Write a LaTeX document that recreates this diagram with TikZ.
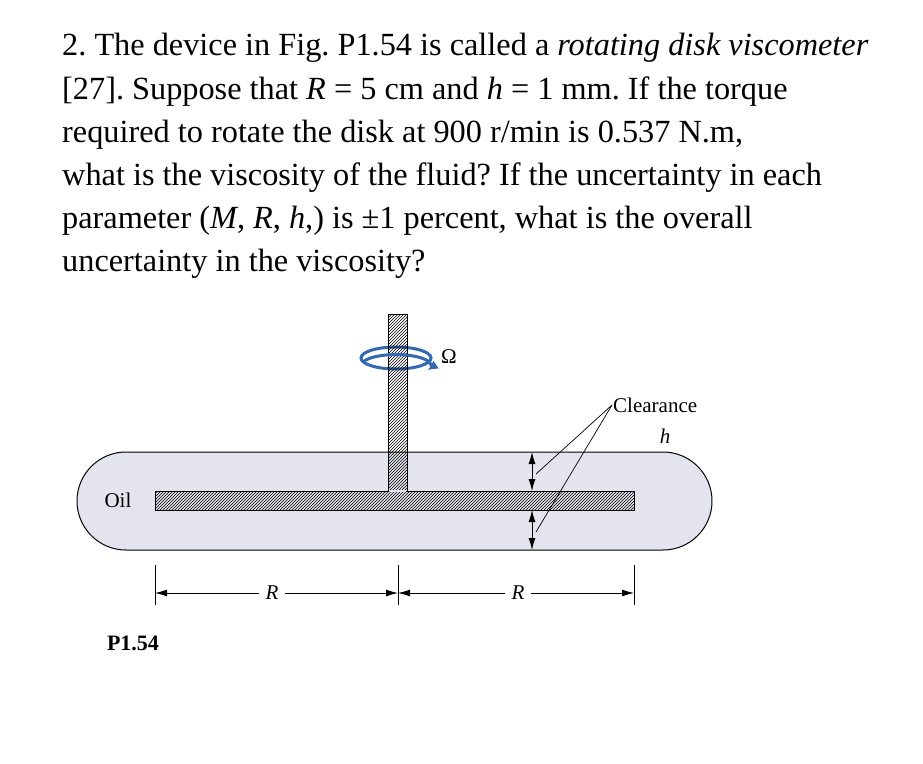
\documentclass[tikz,border=0pt]{standalone}
\usepackage{fontspec}
\setmainfont{Liberation Serif}
\usetikzlibrary{patterns,arrows.meta}
\definecolor{oil}{RGB}{228,228,238}
\definecolor{rot}{RGB}{50,105,175}
\tikzset{txt/.style={anchor=base west,inner sep=0pt,font=\fontsize{32.3}{32}\selectfont},
 lbl/.style={inner sep=1pt,font=\fontsize{21}{21}\selectfont},
 hatch/.style={draw,line width=1pt,pattern=north east lines},
 dim/.style={line width=0.9pt,-{Latex[length=12pt,width=7pt]}},
 ddim/.style={line width=0.9pt,{Latex[length=12pt,width=7pt]}-{Latex[length=12pt,width=7pt]}}}
\begin{document}
\frenchspacing
\begin{tikzpicture}[x=1pt,y=-1pt]
\useasboundingbox (0,0) rectangle (923,763);
\node[txt] (l1) at (62,55) {2. The device in Fig. P1.54 is called a \textit{rotating disk viscometer}};
\node[txt] (l2) at (62,99) {[27]. Suppose that \textit{R} = 5 cm and \textit{h} = 1 mm. If the torque};
\node[txt] (l3) at (62,142) {required to rotate the disk at 900 r/min is 0.537 N.m,};
\node[txt] (l4) at (62,185) {what is the viscosity of the fluid? If the uncertainty in each};
\node[txt] (l5) at (62,228) {parameter (\textit{M}, \textit{R}, \textit{h},) is ±1 percent, what is the overall};
\node[txt] (l6) at (62,271) {uncertainty in the viscosity?};
% container
\draw[fill=oil,line width=1pt,rounded corners=49] (77,452) rectangle (712,550);
% rotation back part
\draw[rot,line width=3pt] (396,358) ellipse[x radius=35,y radius=11];
% disk and shaft
\path[hatch] (155,491) rectangle (634,510);
\path[hatch] (388,314) rectangle (407,491);
\draw[oil,line width=1.5pt] (389,491) -- (406,491);
\draw[rot,line width=3pt,-{Latex[length=10pt,width=10pt]}] (363.1,361.8) arc[start angle=200,end angle=385,x radius=35,y radius=11];
\node[lbl] (om) at (449,357) {Ω};
\node[lbl] (oil) at (118,500) {Oil};
% clearance
\coordinate (ct) at (532,452); \coordinate (cd1) at (532,491);
\coordinate (cd2) at (532,510); \coordinate (cb) at (532,550);
\draw[ddim] (ct) -- (cd1);
\draw[ddim] (cd2) -- (cb);
\node[lbl,anchor=west] (cl) at (612,405) {Clearance};
\node[lbl] (h) at (665,436) {\textit{h}};
\draw[line width=0.7pt] (cl.west) -- (536,474);
\draw[line width=0.7pt] (cl.west) -- (536,532);
% dimensions
\coordinate (e1) at (155,565); \coordinate (e2) at (398,565); \coordinate (e3) at (634,565);
\draw[line width=0.8pt] (e1) -- ++(0,40) (e2) -- ++(0,40) (e3) -- ++(0,40);
\node[lbl,fill=white,inner xsep=6pt] (r1) at (272,593) {\textit{R}};
\node[lbl,fill=white,inner xsep=6pt] (r2) at (518,593) {\textit{R}};
\draw[dim] (r1) -- (155,593); \draw[dim] (r1) -- (398,593);
\draw[dim] (r2) -- (398,593); \draw[dim] (r2) -- (634,593);
\node[lbl,font=\fontsize{22}{22}\selectfont\bfseries] (p) at (133,643) {P1.54};
\end{tikzpicture}
\end{document}
